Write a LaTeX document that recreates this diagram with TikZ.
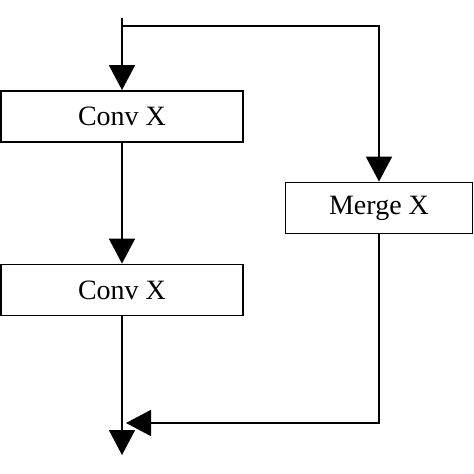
\documentclass[tikz,border=0pt]{standalone}
\usepackage{fontspec}
\setmainfont{Liberation Serif}
\usetikzlibrary{arrows.meta,positioning}
\tikzset{
  block/.style={draw, line width=1.8pt, minimum height=51pt, inner sep=0pt, font=\fontsize{28}{30}\selectfont},
  flow/.style={line width=1.8pt, -{Triangle[length=25pt,width=26pt]}}
}
\begin{document}
\begin{tikzpicture}[x=1pt,y=-1pt]
        \useasboundingbox (0,0) rectangle (474,474);
        \node[block, minimum width=242pt] (conv1) at (122,116.5) {Conv X};
        \node[block, minimum width=242pt] (conv2) at (122,290) {Conv X};
        \node[block, minimum width=187pt] (merge) at (379,208) {Merge X};
        \coordinate (in) at (122,18);
        \coordinate (split) at (122,26);
        \coordinate (join) at (126,423);
        \coordinate (out) at (122,455);
        \draw[flow] (in) -- (conv1);
        \draw[flow] (split) -| (merge);
        \draw[flow] (conv1) -- (conv2);
        \draw[flow] (conv2) -- (out);
        \draw[flow] (merge) |- (join);
\end{tikzpicture}
\end{document}
